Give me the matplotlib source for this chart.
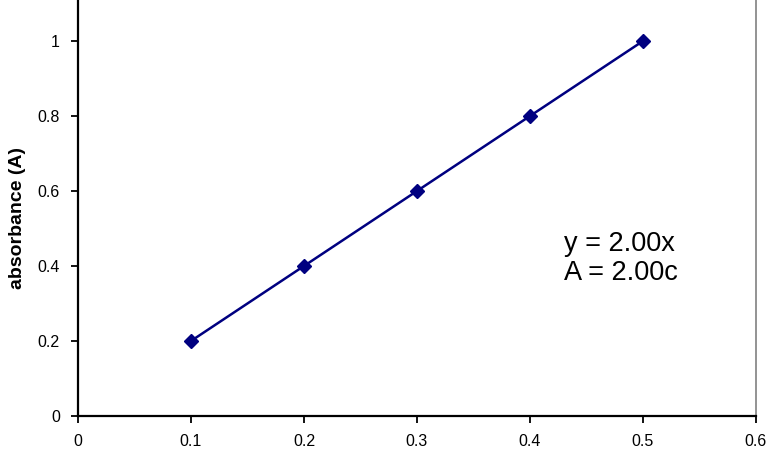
import matplotlib.pyplot as plt

# concentration vs absorbance
conc = [0.1, 0.2, 0.3, 0.4, 0.5]
absorb = [0.2, 0.4, 0.6, 0.8, 1.0]
x_ticks = [0, 0.1, 0.2, 0.3, 0.4, 0.5, 0.6]
y_ticks = [0, 0.2, 0.4, 0.6, 0.8, 1]
equation = 'y = 2.00x\nA = 2.00c'

plt.rcParams['font.family'] = ['Liberation Sans', 'DejaVu Sans']

fig = plt.figure(figsize=(7.8, 4.7), dpi=100)
# top of the plot area is cut off in the reference
ax = fig.add_axes([0.1, 0.115, 0.869, 0.957])
ax.plot(conc, absorb, color='#000080', lw=1.8, marker='D', ms=7,
        markerfacecolor='#000080', markeredgecolor='#000080')

ax.set_xlim(0, 0.6)
ax.set_ylim(0, 1.2)
ax.set_xticks(x_ticks)
ax.set_xticklabels(['0', '0.1', '0.2', '0.3', '0.4', '0.5', '0.6'])
ax.set_yticks(y_ticks)
ax.set_yticklabels(['0', '0.2', '0.4', '0.6', '0.8', '1'])
ax.tick_params(direction='out', length=5, width=1.3, labelsize=11.5, pad=8, colors='black')

for s in ['left', 'bottom']:
    ax.spines[s].set_linewidth(1.6)
    ax.spines[s].set_color('black')
ax.spines['right'].set_color('#808080')
ax.spines['right'].set_linewidth(1.2)
ax.spines['top'].set_visible(False)

ax.set_ylabel('absorbance (A)', fontsize=14, fontweight='bold')
ax.yaxis.set_label_coords(-0.077, 0.44)
ax.text(0.43, 0.42, equation, fontsize=19.5, va='center', ha='left', linespacing=1.15)

fig.savefig('out.png', dpi=100)
